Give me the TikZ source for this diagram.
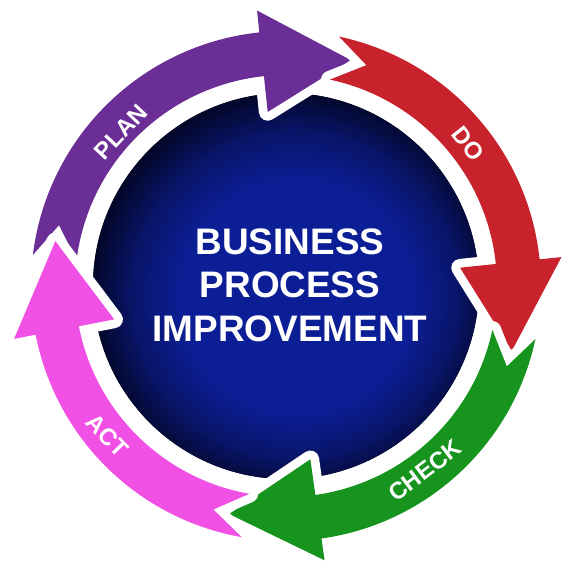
\documentclass[tikz,border=0pt]{standalone}
\usepackage{fontspec}
\setmainfont{Liberation Sans}

\definecolor{planpurple}{RGB}{106,46,150}
\definecolor{dored}{RGB}{200,34,44}
\definecolor{checkgreen}{RGB}{22,148,30}
\definecolor{actpink}{RGB}{240,80,228}
\definecolor{bpiblue}{RGB}{12,30,150}
\definecolor{bpidark}{RGB}{2,4,30}

\pgfdeclareradialshading{bpicore}{\pgfpoint{2bp}{-2bp}}{color(0bp)=(bpiblue); color(15bp)=(bpiblue); color(21bp)=(bpiblue!70!black); color(27bp)=(bpidark); color(50bp)=(bpidark)}

\tikzset{
  steplabel/.style={text=white, font=\bfseries\fontsize{13.5}{16}\selectfont},
  titletext/.style={text=white, align=center, font=\bfseries\fontsize{21}{24.7}\selectfont}
}

\begin{document}
\begin{tikzpicture}[x=0.02cm,y=0.02cm]
\def\rin{211}
\def\rout{255}
\def\rmid{235}
\def\rlo{175}
\def\rhi{277}

% one curved arrow: colour, tip of the arrow before, own tip
\def\pdca#1#2#3{
  \path[fill=#1, preaction={draw=white, line width=10pt, line join=round}]
    ({#2+4}:\rout) arc[start angle={#2+4}, end angle={#3+22}, radius=\rout]
    -- ({#3+22}:\rhi) -- (#3:\rmid) -- ({#3+22}:\rlo) -- ({#3+22}:\rin)
    arc[start angle={#3+22}, end angle={#2+4}, radius=\rin]
    -- ({#2-4}:\rmid) -- cycle;
}

\path[fill=white] (-286,-293) rectangle (290,286);
\useasboundingbox (-286,-293) rectangle (290,286);

% Draw the centre disc
\fill[shading=bpicore] (0,0) circle[radius=193];

% Draw the four arrows of the cycle
\foreach \col/\prev/\tip in {planpurple/169/74, dored/74/-16, checkgreen/-16/-104, actpink/256/169}
  {\pdca{\col}{\prev}{\tip}}

\node[titletext] (title) at (4,1) {BUSINESS\\PROCESS\\IMPROVEMENT};

\node[steplabel, rotate=47] (plan) at (137:226) {PLAN};
\node[steplabel, rotate=-52] (do) at (38:231) {DO};
\node[steplabel, rotate=37] (check) at (-53:231) {CHECK};
\node[steplabel, rotate=-46] (act) at (220:233) {ACT};

\end{tikzpicture}
\end{document}
